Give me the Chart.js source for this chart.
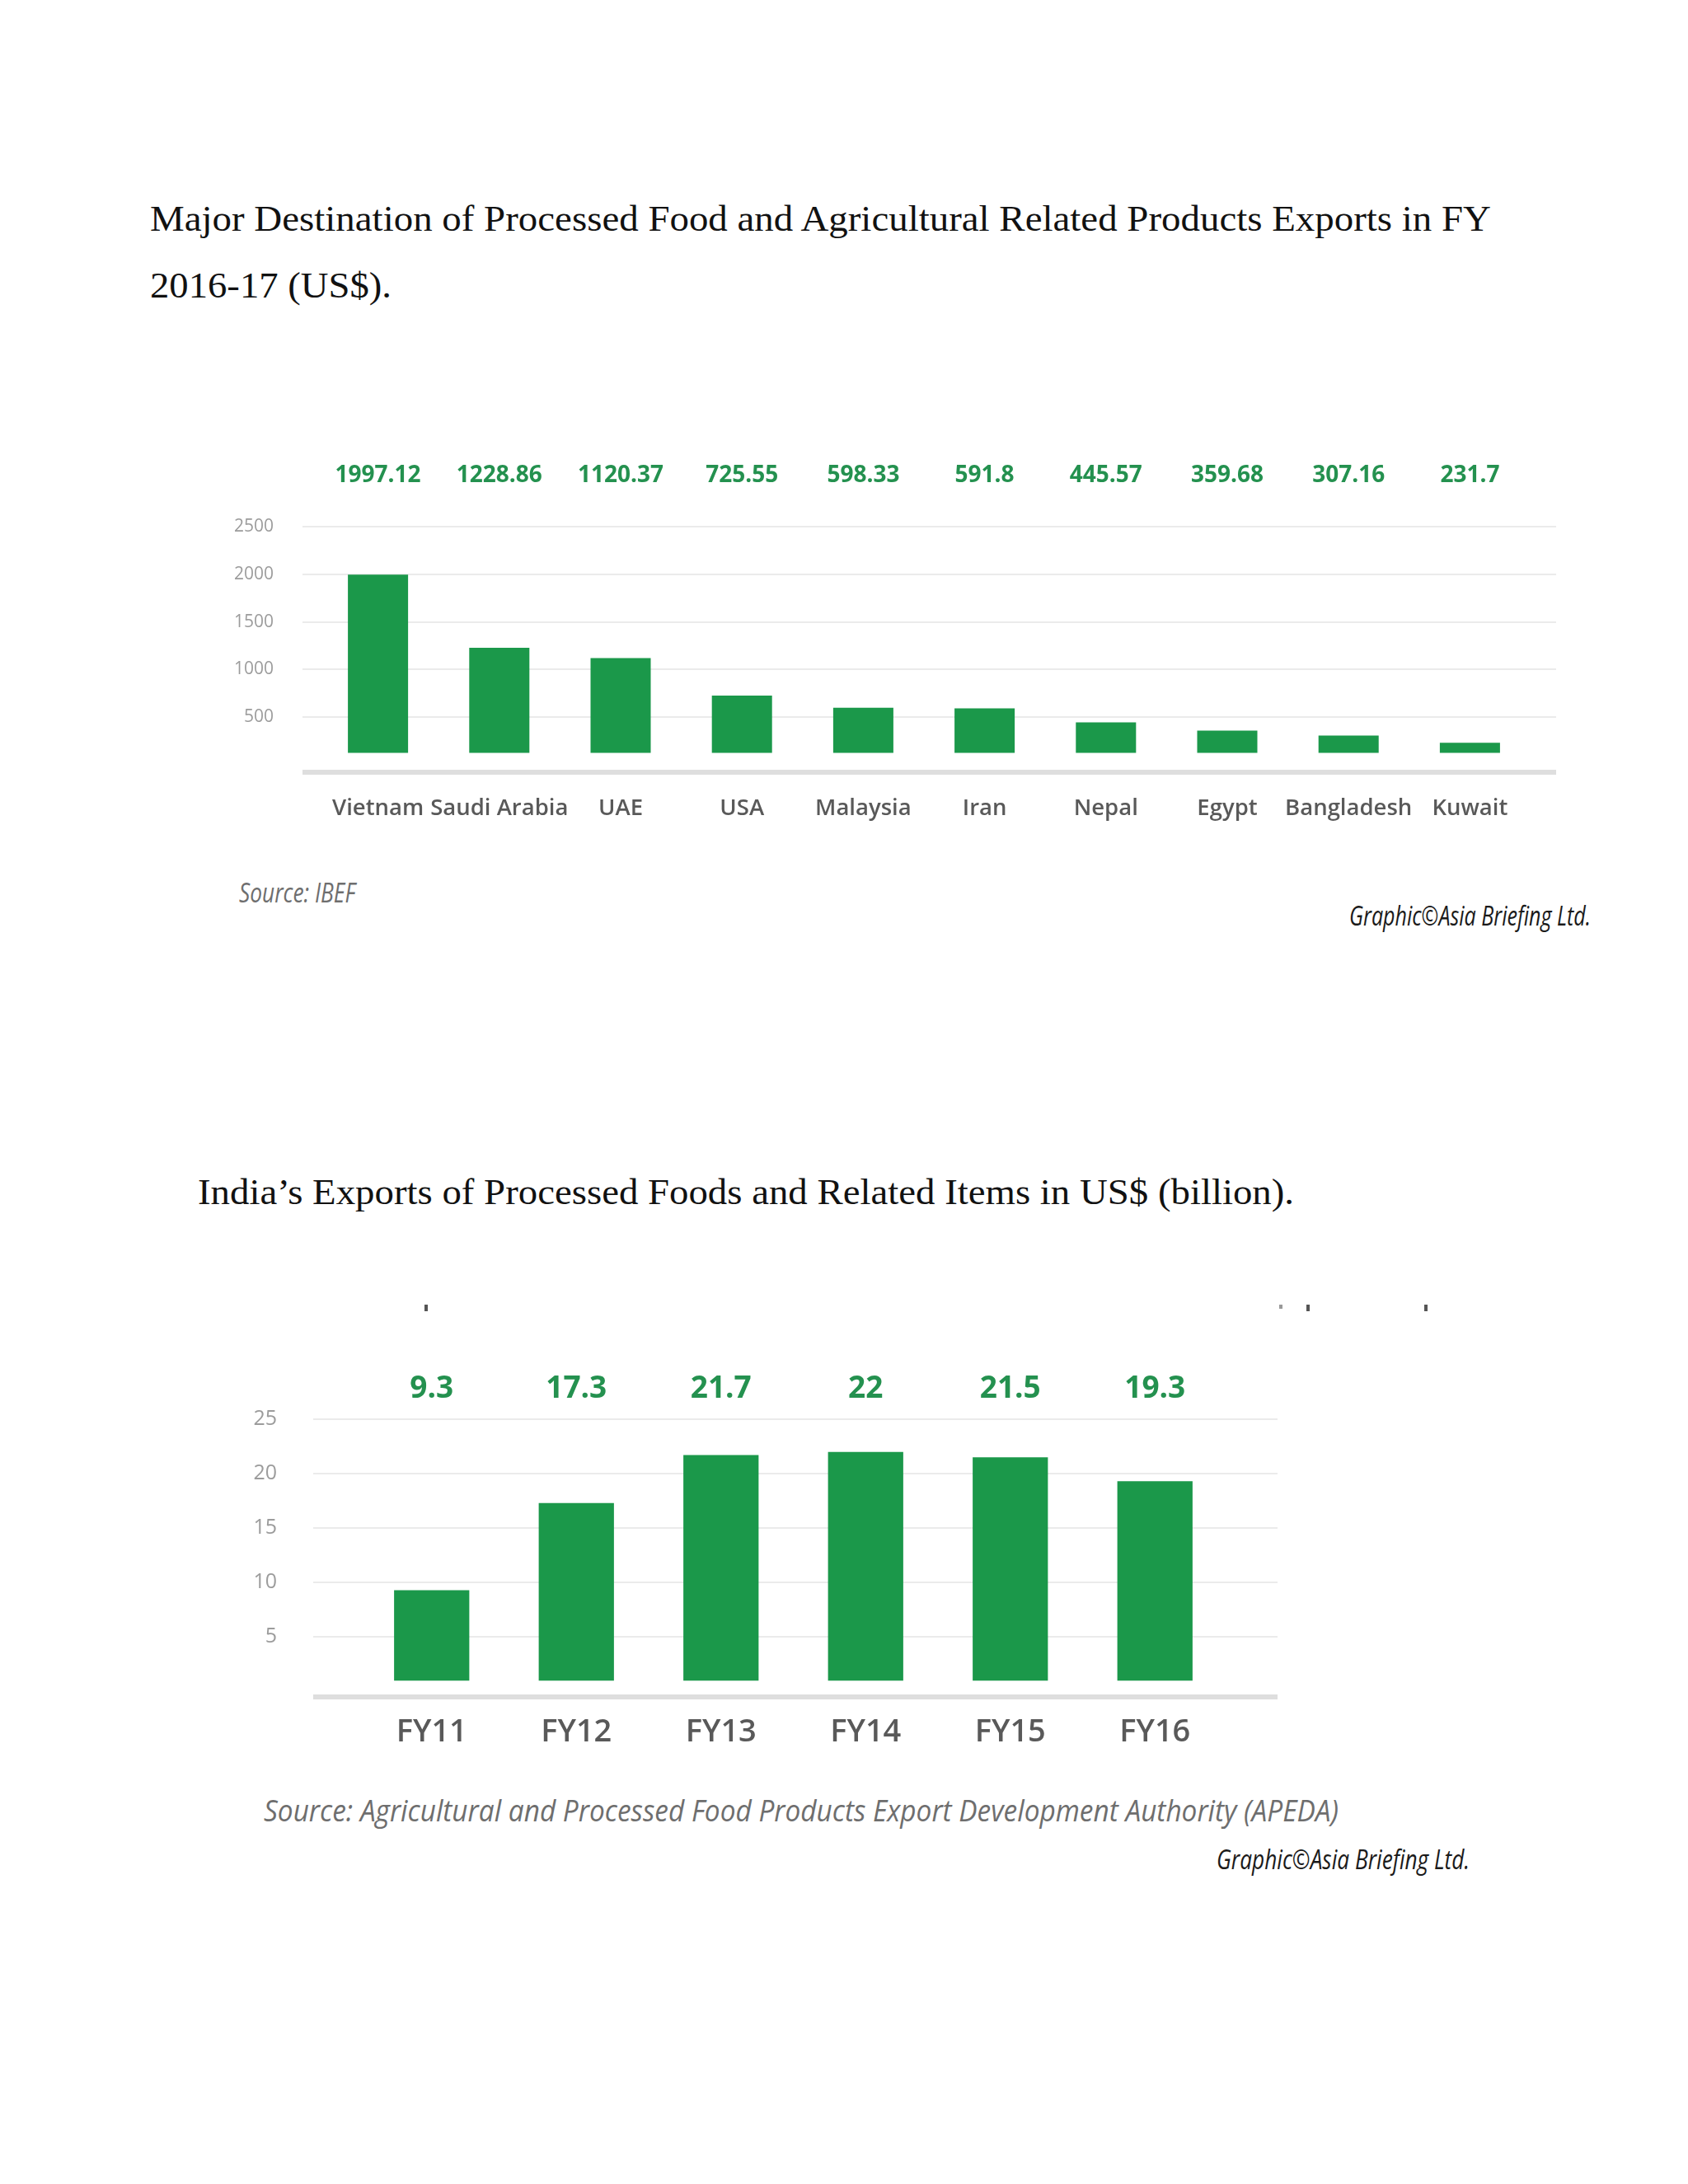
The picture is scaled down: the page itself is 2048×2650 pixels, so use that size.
<!DOCTYPE html>
<html>
<head>
<meta charset="utf-8">
<script src="https://cdn.jsdelivr.net/npm/chart.js@4.4.0/dist/chart.umd.min.js"></script>
<style>
  html, body { margin: 0; padding: 0; background: #fff; }
  #page { position: relative; width: 2048px; height: 2650px; overflow: hidden; background: #fff; }
  .txt { position: absolute; white-space: nowrap; line-height: 1; transform-origin: left center; }
  .title { font-family: "Liberation Serif", "Times New Roman", serif; font-size: 45px; color: #111; }
  .src { font-family: "Open Sans", sans-serif; font-style: italic; color: #6e6e6e; }
  .credit { font-family: "Open Sans", sans-serif; font-style: italic; color: #1a1a1a; }
  canvas { position: absolute; }
  .mark { position: absolute; width: 4px; height: 8px; background: #555; }
</style>
</head>
<body>
<div id="page">
  <div class="txt title" style="left:182px; top:243px" data-w="1627">Major Destination  of Processed Food and Agricultural  Related  Products Exports in FY</div>
  <div class="txt title" style="left:182px; top:324px" data-w="293">2016-17 (US$).</div>

  <canvas id="chart1" width="1700" height="470" style="left:260px; top:540px"></canvas>

  <div class="txt src" style="left:290px; top:1067px; font-size:32px" data-w="141">Source: IBEF</div>
  <div class="txt credit" style="left:1637px; top:1095px; font-size:32px" data-w="293">Graphic©Asia Briefing Ltd.</div>

  <div class="txt title" style="left:240px; top:1424px" data-w="1330">India’s Exports of Processed Foods and Related  Items in US$ (billion).</div>

  <div class="mark" style="left:515px; top:1583px"></div>
  <div class="mark" style="left:1552px; top:1583px; height:5px; background:#999"></div>
  <div class="mark" style="left:1585px; top:1583px"></div>
  <div class="mark" style="left:1728px; top:1583px"></div>

  <canvas id="chart2" width="1400" height="540" style="left:260px; top:1600px"></canvas>

  <div class="txt src" style="left:320px; top:2177px; font-size:37px" data-w="1304">Source: Agricultural and Processed Food Products Export Development Authority (APEDA)</div>
  <div class="txt credit" style="left:1476px; top:2240px; font-size:32px" data-w="307">Graphic©Asia Briefing Ltd.</div>
</div>

<script>
// chart 1: destinations, FY 2016-17 (US$)
const countries = ["Vietnam", "Saudi Arabia", "UAE", "USA", "Malaysia", "Iran", "Nepal", "Egypt", "Bangladesh", "Kuwait"];
const countryValues = [1997.12, 1228.86, 1120.37, 725.55, 598.33, 591.8, 445.57, 359.68, 307.16, 231.7];
const countryTicks = [500, 1000, 1500, 2000, 2500];

// chart 2: India's exports by year (US$ billion)
const years = ["FY11", "FY12", "FY13", "FY14", "FY15", "FY16"];
const yearValues = [9.3, 17.3, 21.7, 22, 21.5, 19.3];
const yearTicks = [5, 10, 15, 20, 25];

const GREEN = "#1b984a";
const LABEL_GREEN = "#24914f";

// squeeze text blocks to the width they have in the picture
document.querySelectorAll(".txt[data-w]").forEach(el => {
    el.style.display = "inline-block";
    const w = el.getBoundingClientRect().width;
    el.style.transform = "scaleX(" + (Number(el.dataset.w) / w) + ")";
});

// grid lines that run past the category area, plus the thick base line
const wideGrid = {
    id: "wideGrid",
    beforeDatasetsDraw(chart, args, opts) {
        const { ctx, chartArea } = chart;
        const y = chart.scales.y;
        ctx.save();
        ctx.strokeStyle = "#ebebeb";
        ctx.lineWidth = 2;
        y.ticks.forEach(t => {
            const py = Math.round(y.getPixelForValue(t.value));
            ctx.beginPath();
            ctx.moveTo(chartArea.left - opts.left, py);
            ctx.lineTo(chartArea.right + opts.right, py);
            ctx.stroke();
        });
        ctx.strokeStyle = "#dedede";
        ctx.lineWidth = 6;
        ctx.beginPath();
        ctx.moveTo(chartArea.left - opts.left, chartArea.bottom);
        ctx.lineTo(chartArea.right + opts.right, chartArea.bottom);
        ctx.stroke();
        ctx.restore();
    }
};

// value labels in a row above the plot
const topLabels = {
    id: "topLabels",
    afterDatasetsDraw(chart, args, opts) {
        const { ctx, chartArea } = chart;
        const meta = chart.getDatasetMeta(0);
        const data = chart.data.datasets[0].data;
        ctx.save();
        ctx.font = opts.font;
        ctx.fillStyle = LABEL_GREEN;
        ctx.textAlign = "center";
        ctx.textBaseline = "middle";
        meta.data.forEach((bar, i) => {
            ctx.fillText(String(data[i]), bar.x, chartArea.top - opts.offset);
        });
        ctx.restore();
    }
};

function makeChart(id, labels, values, ticks, cfg) {
    return new Chart(document.getElementById(id), {
        type: "bar",
        data: {
            labels: labels,
            datasets: [{
                data: values,
                backgroundColor: GREEN,
                borderWidth: 0,
                base: cfg.base,
                barPercentage: cfg.barPct,
                categoryPercentage: 1
            }]
        },
        options: {
            responsive: false,
            animation: false,
            devicePixelRatio: 1,
            layout: { padding: { top: cfg.padTop, right: cfg.padRight, left: 0, bottom: 0 } },
            plugins: {
                legend: { display: false },
                tooltip: { enabled: false },
                wideGrid: cfg.grid,
                topLabels: { font: cfg.valueFont, offset: cfg.valueOffset }
            },
            scales: {
                x: {
                    grid: { display: false },
                    border: { display: false },
                    ticks: {
                        color: "#595959",
                        font: { family: "Open Sans", size: cfg.xSize, weight: "600" },
                        padding: cfg.xPad,
                        maxRotation: 0,
                        autoSkip: false
                    },
                    afterFit: s => { s.height = cfg.xHeight; }
                },
                y: {
                    min: cfg.yMin,
                    max: cfg.yMax,
                    grid: { display: false },
                    border: { display: false },
                    ticks: {
                        color: "#9c9c9c",
                        font: { family: "Open Sans", size: cfg.ySize },
                        padding: cfg.yPad,
                        callback: v => String(v)
                    },
                    afterBuildTicks: s => { s.ticks = ticks.map(v => ({ value: v })); },
                    afterFit: s => {
                        s.width = cfg.yWidth;
                        s.paddingTop = 0;
                        s.paddingBottom = 0;
                    }
                }
            }
        },
        plugins: [wideGrid, topLabels]
    });
}

makeChart("chart1", countries, countryValues, countryTicks, {
    base: 125, barPct: 0.496,
    padTop: 99, padRight: 103,
    xHeight: 73, yWidth: 125,
    yMin: -78, yMax: 2500,
    xSize: 27.5, xPad: 20,
    ySize: 21, yPad: 45,
    grid: { left: 18, right: 31 },
    valueFont: "bold 28px 'Open Sans'", valueOffset: 62
});

makeChart("chart2", years, yearValues, yearTicks, {
    base: 1, barPct: 0.52,
    padTop: 122, padRight: 171,
    xHeight: 81, yWidth: 176,
    yMin: -0.5, yMax: 25,
    xSize: 38, xPad: 12,
    ySize: 25, yPad: 92,
    grid: { left: 56, right: 61 },
    valueFont: "bold 37px 'Open Sans'", valueOffset: 37
});
</script>
</body>
</html>
